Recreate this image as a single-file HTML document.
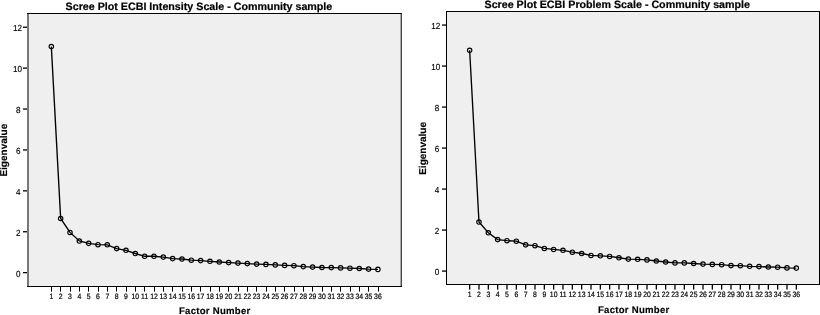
<!DOCTYPE html>
<html><head><meta charset="utf-8"><style>
html,body{margin:0;padding:0;background:#fff;}
body{width:820px;height:315px;overflow:hidden;}
svg{display:block;}
text{font-family:"Liberation Sans",Arial,sans-serif;fill:#000;text-rendering:geometricPrecision;}
.tt{font-size:10.7px;font-weight:bold;stroke:#000;stroke-width:0.2px;}
.ax{font-size:9.6px;font-weight:bold;letter-spacing:0.25px;stroke:#000;stroke-width:0.15px;}
.ev{font-size:10px;letter-spacing:0px;}
.yl{font-size:8.8px;text-anchor:end;stroke:#000;stroke-width:0.15px;}
.xl{font-size:7.8px;text-anchor:middle;stroke:#000;stroke-width:0.2px;}
</style></head><body>
<svg width="820" height="315" viewBox="0 0 820 315" shape-rendering="auto">
<rect width="820" height="315" fill="#fff"/>
<rect x="27" y="13" width="375" height="274" fill="#efefef"/>
<rect x="400" y="13" width="1" height="274" fill="#a8a8a8"/>
<rect x="401" y="13" width="1" height="274" fill="#484848"/>
<rect x="27" y="13" width="1" height="274" fill="#787878"/>
<rect x="28" y="13" width="1" height="274" fill="#787878"/>
<rect x="27" y="13" width="375" height="1" fill="#000"/>
<rect x="27" y="286" width="375" height="1" fill="#000"/>
<rect x="23" y="272.00" width="4" height="1.3" fill="#000"/>
<text transform="translate(20.60,276.55) scale(0.92,1)" class="yl">0</text>
<rect x="23" y="231.10" width="4" height="1.3" fill="#000"/>
<text transform="translate(20.60,235.65) scale(0.92,1)" class="yl">2</text>
<rect x="23" y="190.19" width="4" height="1.3" fill="#000"/>
<text transform="translate(20.60,194.74) scale(0.92,1)" class="yl">4</text>
<rect x="23" y="149.29" width="4" height="1.3" fill="#000"/>
<text transform="translate(20.60,153.84) scale(0.92,1)" class="yl">6</text>
<rect x="23" y="108.38" width="4" height="1.3" fill="#000"/>
<text transform="translate(20.60,112.93) scale(0.92,1)" class="yl">8</text>
<rect x="23" y="67.48" width="4" height="1.3" fill="#000"/>
<text transform="translate(22.00,72.03) scale(0.92,1)" class="yl">10</text>
<rect x="23" y="26.58" width="4" height="1.3" fill="#000"/>
<text transform="translate(22.00,31.13) scale(0.92,1)" class="yl">12</text>
<rect x="51" y="287" width="1" height="4.6" fill="#000"/>
<text transform="translate(51.33,299.0) scale(0.88,1)" class="xl">1</text>
<rect x="60" y="287" width="1" height="4.6" fill="#000"/>
<text transform="translate(60.66,299.0) scale(0.88,1)" class="xl">2</text>
<rect x="70" y="287" width="1" height="4.6" fill="#000"/>
<text transform="translate(69.99,299.0) scale(0.88,1)" class="xl">3</text>
<rect x="79" y="287" width="1" height="4.6" fill="#000"/>
<text transform="translate(79.32,299.0) scale(0.88,1)" class="xl">4</text>
<rect x="88" y="287" width="1" height="4.6" fill="#000"/>
<text transform="translate(88.65,299.0) scale(0.88,1)" class="xl">5</text>
<rect x="98" y="287" width="1" height="4.6" fill="#000"/>
<text transform="translate(97.99,299.0) scale(0.88,1)" class="xl">6</text>
<rect x="107" y="287" width="1" height="4.6" fill="#000"/>
<text transform="translate(107.32,299.0) scale(0.88,1)" class="xl">7</text>
<rect x="116" y="287" width="1" height="4.6" fill="#000"/>
<text transform="translate(116.65,299.0) scale(0.88,1)" class="xl">8</text>
<rect x="126" y="287" width="1" height="4.6" fill="#000"/>
<text transform="translate(125.98,299.0) scale(0.88,1)" class="xl">9</text>
<rect x="135" y="287" width="1" height="4.6" fill="#000"/>
<text transform="translate(135.31,299.0) scale(0.88,1)" class="xl">10</text>
<rect x="144" y="287" width="1" height="4.6" fill="#000"/>
<text transform="translate(144.64,299.0) scale(0.88,1)" class="xl">11</text>
<rect x="154" y="287" width="1" height="4.6" fill="#000"/>
<text transform="translate(153.97,299.0) scale(0.88,1)" class="xl">12</text>
<rect x="163" y="287" width="1" height="4.6" fill="#000"/>
<text transform="translate(163.30,299.0) scale(0.88,1)" class="xl">13</text>
<rect x="172" y="287" width="1" height="4.6" fill="#000"/>
<text transform="translate(172.64,299.0) scale(0.88,1)" class="xl">14</text>
<rect x="182" y="287" width="1" height="4.6" fill="#000"/>
<text transform="translate(181.97,299.0) scale(0.88,1)" class="xl">15</text>
<rect x="191" y="287" width="1" height="4.6" fill="#000"/>
<text transform="translate(191.30,299.0) scale(0.88,1)" class="xl">16</text>
<rect x="200" y="287" width="1" height="4.6" fill="#000"/>
<text transform="translate(200.63,299.0) scale(0.88,1)" class="xl">17</text>
<rect x="210" y="287" width="1" height="4.6" fill="#000"/>
<text transform="translate(209.96,299.0) scale(0.88,1)" class="xl">18</text>
<rect x="219" y="287" width="1" height="4.6" fill="#000"/>
<text transform="translate(219.29,299.0) scale(0.88,1)" class="xl">19</text>
<rect x="228" y="287" width="1" height="4.6" fill="#000"/>
<text transform="translate(228.62,299.0) scale(0.88,1)" class="xl">20</text>
<rect x="238" y="287" width="1" height="4.6" fill="#000"/>
<text transform="translate(237.95,299.0) scale(0.88,1)" class="xl">21</text>
<rect x="247" y="287" width="1" height="4.6" fill="#000"/>
<text transform="translate(247.29,299.0) scale(0.88,1)" class="xl">22</text>
<rect x="256" y="287" width="1" height="4.6" fill="#000"/>
<text transform="translate(256.62,299.0) scale(0.88,1)" class="xl">23</text>
<rect x="266" y="287" width="1" height="4.6" fill="#000"/>
<text transform="translate(265.95,299.0) scale(0.88,1)" class="xl">24</text>
<rect x="275" y="287" width="1" height="4.6" fill="#000"/>
<text transform="translate(275.28,299.0) scale(0.88,1)" class="xl">25</text>
<rect x="284" y="287" width="1" height="4.6" fill="#000"/>
<text transform="translate(284.61,299.0) scale(0.88,1)" class="xl">26</text>
<rect x="294" y="287" width="1" height="4.6" fill="#000"/>
<text transform="translate(293.94,299.0) scale(0.88,1)" class="xl">27</text>
<rect x="303" y="287" width="1" height="4.6" fill="#000"/>
<text transform="translate(303.27,299.0) scale(0.88,1)" class="xl">28</text>
<rect x="312" y="287" width="1" height="4.6" fill="#000"/>
<text transform="translate(312.60,299.0) scale(0.88,1)" class="xl">29</text>
<rect x="322" y="287" width="1" height="4.6" fill="#000"/>
<text transform="translate(321.93,299.0) scale(0.88,1)" class="xl">30</text>
<rect x="331" y="287" width="1" height="4.6" fill="#000"/>
<text transform="translate(331.27,299.0) scale(0.88,1)" class="xl">31</text>
<rect x="340" y="287" width="1" height="4.6" fill="#000"/>
<text transform="translate(340.60,299.0) scale(0.88,1)" class="xl">32</text>
<rect x="350" y="287" width="1" height="4.6" fill="#000"/>
<text transform="translate(349.93,299.0) scale(0.88,1)" class="xl">33</text>
<rect x="359" y="287" width="1" height="4.6" fill="#000"/>
<text transform="translate(359.26,299.0) scale(0.88,1)" class="xl">34</text>
<rect x="368" y="287" width="1" height="4.6" fill="#000"/>
<text transform="translate(368.59,299.0) scale(0.88,1)" class="xl">35</text>
<rect x="378" y="287" width="1" height="4.6" fill="#000"/>
<text transform="translate(377.92,299.0) scale(0.88,1)" class="xl">36</text>
<circle cx="51.33" cy="46.60" r="2.2" fill="#f8f8f8" stroke="#000" stroke-width="1.15"/>
<circle cx="60.66" cy="218.50" r="2.2" fill="#f8f8f8" stroke="#000" stroke-width="1.15"/>
<circle cx="69.99" cy="232.40" r="2.2" fill="#f8f8f8" stroke="#000" stroke-width="1.15"/>
<circle cx="79.32" cy="241.00" r="2.2" fill="#f8f8f8" stroke="#000" stroke-width="1.15"/>
<circle cx="88.65" cy="243.35" r="2.2" fill="#f8f8f8" stroke="#000" stroke-width="1.15"/>
<circle cx="97.99" cy="244.70" r="2.2" fill="#f8f8f8" stroke="#000" stroke-width="1.15"/>
<circle cx="107.32" cy="244.80" r="2.2" fill="#f8f8f8" stroke="#000" stroke-width="1.15"/>
<circle cx="116.65" cy="248.60" r="2.2" fill="#f8f8f8" stroke="#000" stroke-width="1.15"/>
<circle cx="125.98" cy="250.30" r="2.2" fill="#f8f8f8" stroke="#000" stroke-width="1.15"/>
<circle cx="135.31" cy="253.50" r="2.2" fill="#f8f8f8" stroke="#000" stroke-width="1.15"/>
<circle cx="144.64" cy="256.30" r="2.2" fill="#f8f8f8" stroke="#000" stroke-width="1.15"/>
<circle cx="153.97" cy="256.30" r="2.2" fill="#f8f8f8" stroke="#000" stroke-width="1.15"/>
<circle cx="163.30" cy="257.10" r="2.2" fill="#f8f8f8" stroke="#000" stroke-width="1.15"/>
<circle cx="172.64" cy="258.60" r="2.2" fill="#f8f8f8" stroke="#000" stroke-width="1.15"/>
<circle cx="181.97" cy="259.00" r="2.2" fill="#f8f8f8" stroke="#000" stroke-width="1.15"/>
<circle cx="191.30" cy="260.20" r="2.2" fill="#f8f8f8" stroke="#000" stroke-width="1.15"/>
<circle cx="200.63" cy="260.60" r="2.2" fill="#f8f8f8" stroke="#000" stroke-width="1.15"/>
<circle cx="209.96" cy="261.30" r="2.2" fill="#f8f8f8" stroke="#000" stroke-width="1.15"/>
<circle cx="219.29" cy="262.00" r="2.2" fill="#f8f8f8" stroke="#000" stroke-width="1.15"/>
<circle cx="228.62" cy="262.60" r="2.2" fill="#f8f8f8" stroke="#000" stroke-width="1.15"/>
<circle cx="237.95" cy="263.10" r="2.2" fill="#f8f8f8" stroke="#000" stroke-width="1.15"/>
<circle cx="247.29" cy="263.60" r="2.2" fill="#f8f8f8" stroke="#000" stroke-width="1.15"/>
<circle cx="256.62" cy="264.10" r="2.2" fill="#f8f8f8" stroke="#000" stroke-width="1.15"/>
<circle cx="265.95" cy="264.40" r="2.2" fill="#f8f8f8" stroke="#000" stroke-width="1.15"/>
<circle cx="275.28" cy="264.90" r="2.2" fill="#f8f8f8" stroke="#000" stroke-width="1.15"/>
<circle cx="284.61" cy="265.40" r="2.2" fill="#f8f8f8" stroke="#000" stroke-width="1.15"/>
<circle cx="293.94" cy="265.70" r="2.2" fill="#f8f8f8" stroke="#000" stroke-width="1.15"/>
<circle cx="303.27" cy="266.60" r="2.2" fill="#f8f8f8" stroke="#000" stroke-width="1.15"/>
<circle cx="312.60" cy="267.10" r="2.2" fill="#f8f8f8" stroke="#000" stroke-width="1.15"/>
<circle cx="321.93" cy="267.50" r="2.2" fill="#f8f8f8" stroke="#000" stroke-width="1.15"/>
<circle cx="331.27" cy="267.60" r="2.2" fill="#f8f8f8" stroke="#000" stroke-width="1.15"/>
<circle cx="340.60" cy="267.90" r="2.2" fill="#f8f8f8" stroke="#000" stroke-width="1.15"/>
<circle cx="349.93" cy="268.20" r="2.2" fill="#f8f8f8" stroke="#000" stroke-width="1.15"/>
<circle cx="359.26" cy="268.50" r="2.2" fill="#f8f8f8" stroke="#000" stroke-width="1.15"/>
<circle cx="368.59" cy="269.10" r="2.2" fill="#f8f8f8" stroke="#000" stroke-width="1.15"/>
<circle cx="377.92" cy="269.40" r="2.2" fill="#f8f8f8" stroke="#000" stroke-width="1.15"/>
<polyline points="51.33,46.60 60.66,218.50 69.99,232.40 79.32,241.00 88.65,243.35 97.99,244.70 107.32,244.80 116.65,248.60 125.98,250.30 135.31,253.50 144.64,256.30 153.97,256.30 163.30,257.10 172.64,258.60 181.97,259.00 191.30,260.20 200.63,260.60 209.96,261.30 219.29,262.00 228.62,262.60 237.95,263.10 247.29,263.60 256.62,264.10 265.95,264.40 275.28,264.90 284.61,265.40 293.94,265.70 303.27,266.60 312.60,267.10 321.93,267.50 331.27,267.60 340.60,267.90 349.93,268.20 359.26,268.50 368.59,269.10 377.92,269.40" fill="none" stroke="#000" stroke-width="1.35"/>
<text x="65.6" y="9.7" class="tt">Scree Plot ECBI Intensity Scale - Community sample</text>
<rect x="446" y="11" width="374" height="274" fill="#efefef"/>
<rect x="819" y="11" width="1" height="274" fill="#000"/>
<rect x="446" y="11" width="1" height="274" fill="#000"/>
<rect x="446" y="11" width="374" height="1" fill="#000"/>
<rect x="446" y="284" width="374" height="1" fill="#000"/>
<rect x="442" y="270.41" width="4" height="1.3" fill="#000"/>
<text transform="translate(439.30,274.96) scale(0.92,1)" class="yl">0</text>
<rect x="442" y="229.41" width="4" height="1.3" fill="#000"/>
<text transform="translate(439.30,233.96) scale(0.92,1)" class="yl">2</text>
<rect x="442" y="188.42" width="4" height="1.3" fill="#000"/>
<text transform="translate(439.30,192.97) scale(0.92,1)" class="yl">4</text>
<rect x="442" y="147.42" width="4" height="1.3" fill="#000"/>
<text transform="translate(439.30,151.97) scale(0.92,1)" class="yl">6</text>
<rect x="442" y="106.43" width="4" height="1.3" fill="#000"/>
<text transform="translate(439.30,110.98) scale(0.92,1)" class="yl">8</text>
<rect x="442" y="65.43" width="4" height="1.3" fill="#000"/>
<text transform="translate(440.20,69.98) scale(0.92,1)" class="yl">10</text>
<rect x="442" y="24.43" width="4" height="1.3" fill="#000"/>
<text transform="translate(440.20,28.98) scale(0.92,1)" class="yl">12</text>
<rect x="469.00" y="285" width="1.3" height="4.6" fill="#000"/>
<text transform="translate(469.65,297.0) scale(0.88,1)" class="xl">1</text>
<rect x="478.33" y="285" width="1.3" height="4.6" fill="#000"/>
<text transform="translate(478.98,297.0) scale(0.88,1)" class="xl">2</text>
<rect x="487.67" y="285" width="1.3" height="4.6" fill="#000"/>
<text transform="translate(488.32,297.0) scale(0.88,1)" class="xl">3</text>
<rect x="497.00" y="285" width="1.3" height="4.6" fill="#000"/>
<text transform="translate(497.65,297.0) scale(0.88,1)" class="xl">4</text>
<rect x="506.33" y="285" width="1.3" height="4.6" fill="#000"/>
<text transform="translate(506.98,297.0) scale(0.88,1)" class="xl">5</text>
<rect x="515.67" y="285" width="1.3" height="4.6" fill="#000"/>
<text transform="translate(516.32,297.0) scale(0.88,1)" class="xl">6</text>
<rect x="525.00" y="285" width="1.3" height="4.6" fill="#000"/>
<text transform="translate(525.65,297.0) scale(0.88,1)" class="xl">7</text>
<rect x="534.33" y="285" width="1.3" height="4.6" fill="#000"/>
<text transform="translate(534.98,297.0) scale(0.88,1)" class="xl">8</text>
<rect x="543.67" y="285" width="1.3" height="4.6" fill="#000"/>
<text transform="translate(544.32,297.0) scale(0.88,1)" class="xl">9</text>
<rect x="553.00" y="285" width="1.3" height="4.6" fill="#000"/>
<text transform="translate(553.65,297.0) scale(0.88,1)" class="xl">10</text>
<rect x="562.33" y="285" width="1.3" height="4.6" fill="#000"/>
<text transform="translate(562.98,297.0) scale(0.88,1)" class="xl">11</text>
<rect x="571.67" y="285" width="1.3" height="4.6" fill="#000"/>
<text transform="translate(572.32,297.0) scale(0.88,1)" class="xl">12</text>
<rect x="581.00" y="285" width="1.3" height="4.6" fill="#000"/>
<text transform="translate(581.65,297.0) scale(0.88,1)" class="xl">13</text>
<rect x="590.33" y="285" width="1.3" height="4.6" fill="#000"/>
<text transform="translate(590.98,297.0) scale(0.88,1)" class="xl">14</text>
<rect x="599.67" y="285" width="1.3" height="4.6" fill="#000"/>
<text transform="translate(600.32,297.0) scale(0.88,1)" class="xl">15</text>
<rect x="609.00" y="285" width="1.3" height="4.6" fill="#000"/>
<text transform="translate(609.65,297.0) scale(0.88,1)" class="xl">16</text>
<rect x="618.33" y="285" width="1.3" height="4.6" fill="#000"/>
<text transform="translate(618.98,297.0) scale(0.88,1)" class="xl">17</text>
<rect x="627.67" y="285" width="1.3" height="4.6" fill="#000"/>
<text transform="translate(628.32,297.0) scale(0.88,1)" class="xl">18</text>
<rect x="637.00" y="285" width="1.3" height="4.6" fill="#000"/>
<text transform="translate(637.65,297.0) scale(0.88,1)" class="xl">19</text>
<rect x="646.33" y="285" width="1.3" height="4.6" fill="#000"/>
<text transform="translate(646.98,297.0) scale(0.88,1)" class="xl">20</text>
<rect x="655.67" y="285" width="1.3" height="4.6" fill="#000"/>
<text transform="translate(656.32,297.0) scale(0.88,1)" class="xl">21</text>
<rect x="665.00" y="285" width="1.3" height="4.6" fill="#000"/>
<text transform="translate(665.65,297.0) scale(0.88,1)" class="xl">22</text>
<rect x="674.33" y="285" width="1.3" height="4.6" fill="#000"/>
<text transform="translate(674.98,297.0) scale(0.88,1)" class="xl">23</text>
<rect x="683.67" y="285" width="1.3" height="4.6" fill="#000"/>
<text transform="translate(684.32,297.0) scale(0.88,1)" class="xl">24</text>
<rect x="693.00" y="285" width="1.3" height="4.6" fill="#000"/>
<text transform="translate(693.65,297.0) scale(0.88,1)" class="xl">25</text>
<rect x="702.33" y="285" width="1.3" height="4.6" fill="#000"/>
<text transform="translate(702.98,297.0) scale(0.88,1)" class="xl">26</text>
<rect x="711.67" y="285" width="1.3" height="4.6" fill="#000"/>
<text transform="translate(712.32,297.0) scale(0.88,1)" class="xl">27</text>
<rect x="721.00" y="285" width="1.3" height="4.6" fill="#000"/>
<text transform="translate(721.65,297.0) scale(0.88,1)" class="xl">28</text>
<rect x="730.34" y="285" width="1.3" height="4.6" fill="#000"/>
<text transform="translate(730.99,297.0) scale(0.88,1)" class="xl">29</text>
<rect x="739.67" y="285" width="1.3" height="4.6" fill="#000"/>
<text transform="translate(740.32,297.0) scale(0.88,1)" class="xl">30</text>
<rect x="749.00" y="285" width="1.3" height="4.6" fill="#000"/>
<text transform="translate(749.65,297.0) scale(0.88,1)" class="xl">31</text>
<rect x="758.34" y="285" width="1.3" height="4.6" fill="#000"/>
<text transform="translate(758.99,297.0) scale(0.88,1)" class="xl">32</text>
<rect x="767.67" y="285" width="1.3" height="4.6" fill="#000"/>
<text transform="translate(768.32,297.0) scale(0.88,1)" class="xl">33</text>
<rect x="777.00" y="285" width="1.3" height="4.6" fill="#000"/>
<text transform="translate(777.65,297.0) scale(0.88,1)" class="xl">34</text>
<rect x="786.34" y="285" width="1.3" height="4.6" fill="#000"/>
<text transform="translate(786.99,297.0) scale(0.88,1)" class="xl">35</text>
<rect x="795.67" y="285" width="1.3" height="4.6" fill="#000"/>
<text transform="translate(796.32,297.0) scale(0.88,1)" class="xl">36</text>
<circle cx="469.65" cy="50.30" r="2.2" fill="#f8f8f8" stroke="#000" stroke-width="1.15"/>
<circle cx="478.98" cy="222.00" r="2.2" fill="#f8f8f8" stroke="#000" stroke-width="1.15"/>
<circle cx="488.32" cy="232.80" r="2.2" fill="#f8f8f8" stroke="#000" stroke-width="1.15"/>
<circle cx="497.65" cy="239.60" r="2.2" fill="#f8f8f8" stroke="#000" stroke-width="1.15"/>
<circle cx="506.98" cy="240.70" r="2.2" fill="#f8f8f8" stroke="#000" stroke-width="1.15"/>
<circle cx="516.32" cy="241.20" r="2.2" fill="#f8f8f8" stroke="#000" stroke-width="1.15"/>
<circle cx="525.65" cy="244.85" r="2.2" fill="#f8f8f8" stroke="#000" stroke-width="1.15"/>
<circle cx="534.98" cy="245.70" r="2.2" fill="#f8f8f8" stroke="#000" stroke-width="1.15"/>
<circle cx="544.32" cy="248.40" r="2.2" fill="#f8f8f8" stroke="#000" stroke-width="1.15"/>
<circle cx="553.65" cy="249.40" r="2.2" fill="#f8f8f8" stroke="#000" stroke-width="1.15"/>
<circle cx="562.98" cy="250.30" r="2.2" fill="#f8f8f8" stroke="#000" stroke-width="1.15"/>
<circle cx="572.32" cy="252.20" r="2.2" fill="#f8f8f8" stroke="#000" stroke-width="1.15"/>
<circle cx="581.65" cy="253.50" r="2.2" fill="#f8f8f8" stroke="#000" stroke-width="1.15"/>
<circle cx="590.98" cy="255.40" r="2.2" fill="#f8f8f8" stroke="#000" stroke-width="1.15"/>
<circle cx="600.32" cy="255.80" r="2.2" fill="#f8f8f8" stroke="#000" stroke-width="1.15"/>
<circle cx="609.65" cy="256.40" r="2.2" fill="#f8f8f8" stroke="#000" stroke-width="1.15"/>
<circle cx="618.98" cy="257.75" r="2.2" fill="#f8f8f8" stroke="#000" stroke-width="1.15"/>
<circle cx="628.32" cy="259.10" r="2.2" fill="#f8f8f8" stroke="#000" stroke-width="1.15"/>
<circle cx="637.65" cy="259.30" r="2.2" fill="#f8f8f8" stroke="#000" stroke-width="1.15"/>
<circle cx="646.98" cy="259.90" r="2.2" fill="#f8f8f8" stroke="#000" stroke-width="1.15"/>
<circle cx="656.32" cy="261.00" r="2.2" fill="#f8f8f8" stroke="#000" stroke-width="1.15"/>
<circle cx="665.65" cy="262.00" r="2.2" fill="#f8f8f8" stroke="#000" stroke-width="1.15"/>
<circle cx="674.98" cy="262.90" r="2.2" fill="#f8f8f8" stroke="#000" stroke-width="1.15"/>
<circle cx="684.32" cy="262.90" r="2.2" fill="#f8f8f8" stroke="#000" stroke-width="1.15"/>
<circle cx="693.65" cy="263.50" r="2.2" fill="#f8f8f8" stroke="#000" stroke-width="1.15"/>
<circle cx="702.98" cy="264.10" r="2.2" fill="#f8f8f8" stroke="#000" stroke-width="1.15"/>
<circle cx="712.32" cy="264.40" r="2.2" fill="#f8f8f8" stroke="#000" stroke-width="1.15"/>
<circle cx="721.65" cy="264.70" r="2.2" fill="#f8f8f8" stroke="#000" stroke-width="1.15"/>
<circle cx="730.99" cy="265.60" r="2.2" fill="#f8f8f8" stroke="#000" stroke-width="1.15"/>
<circle cx="740.32" cy="265.70" r="2.2" fill="#f8f8f8" stroke="#000" stroke-width="1.15"/>
<circle cx="749.65" cy="266.30" r="2.2" fill="#f8f8f8" stroke="#000" stroke-width="1.15"/>
<circle cx="758.99" cy="266.60" r="2.2" fill="#f8f8f8" stroke="#000" stroke-width="1.15"/>
<circle cx="768.32" cy="267.00" r="2.2" fill="#f8f8f8" stroke="#000" stroke-width="1.15"/>
<circle cx="777.65" cy="267.20" r="2.2" fill="#f8f8f8" stroke="#000" stroke-width="1.15"/>
<circle cx="786.99" cy="267.90" r="2.2" fill="#f8f8f8" stroke="#000" stroke-width="1.15"/>
<circle cx="796.32" cy="268.10" r="2.2" fill="#f8f8f8" stroke="#000" stroke-width="1.15"/>
<polyline points="469.65,50.30 478.98,222.00 488.32,232.80 497.65,239.60 506.98,240.70 516.32,241.20 525.65,244.85 534.98,245.70 544.32,248.40 553.65,249.40 562.98,250.30 572.32,252.20 581.65,253.50 590.98,255.40 600.32,255.80 609.65,256.40 618.98,257.75 628.32,259.10 637.65,259.30 646.98,259.90 656.32,261.00 665.65,262.00 674.98,262.90 684.32,262.90 693.65,263.50 702.98,264.10 712.32,264.40 721.65,264.70 730.99,265.60 740.32,265.70 749.65,266.30 758.99,266.60 768.32,267.00 777.65,267.20 786.99,267.90 796.32,268.10" fill="none" stroke="#000" stroke-width="1.35"/>
<text x="484.5" y="7.7" class="tt">Scree Plot ECBI Problem Scale - Community sample</text>
<text class="ax" x="179" y="314.1" >Factor Number</text>
<text class="ax" x="598" y="313.4" >Factor Number</text>
<text class="ax ev" transform="translate(7.3,176.6) rotate(-90)">Eigenvalue</text>
<text class="ax ev" transform="translate(425.5,174.8) rotate(-90)">Eigenvalue</text>
</svg>
</body></html>
